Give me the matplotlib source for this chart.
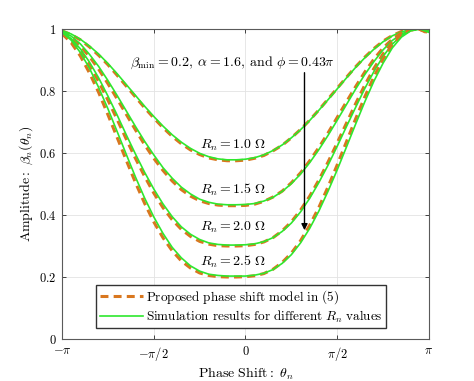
import numpy as np
import matplotlib
matplotlib.use("Agg")
import matplotlib.pyplot as plt

# phase shift samples, in steps of pi/20 from -pi to pi
theta_steps = np.arange(-20, 21)
theta = theta_steps * np.pi / 20

rn_labels = ["1.0", "1.5", "2.0", "2.5"]
rn_label_y = [0.626, 0.481, 0.361, 0.248]

# proposed model (dashed)
model_10 = [0.994, 0.982, 0.965, 0.942, 0.915, 0.885, 0.851, 0.816, 0.781, 0.746, 0.713,
            0.682, 0.654, 0.630, 0.610, 0.595, 0.584, 0.578, 0.575, 0.575, 0.577, 0.583,
            0.592, 0.607, 0.625, 0.649, 0.676, 0.706, 0.739, 0.774, 0.809, 0.844, 0.878,
            0.909, 0.937, 0.961, 0.979, 0.992, 0.999, 0.999, 0.994]
model_15 = [0.990, 0.972, 0.945, 0.911, 0.870, 0.824, 0.775, 0.725, 0.675, 0.627, 0.583,
            0.544, 0.510, 0.482, 0.461, 0.446, 0.437, 0.432, 0.430, 0.430, 0.431, 0.435,
            0.444, 0.458, 0.477, 0.504, 0.536, 0.575, 0.618, 0.665, 0.715, 0.765, 0.814,
            0.861, 0.903, 0.939, 0.967, 0.988, 0.998, 0.999, 0.990]
model_20 = [0.987, 0.963, 0.928, 0.883, 0.830, 0.771, 0.709, 0.645, 0.583, 0.525, 0.471,
            0.424, 0.385, 0.354, 0.331, 0.315, 0.306, 0.301, 0.300, 0.300, 0.301, 0.305,
            0.313, 0.327, 0.349, 0.378, 0.416, 0.461, 0.513, 0.571, 0.633, 0.696, 0.759,
            0.819, 0.873, 0.920, 0.957, 0.984, 0.998, 0.999, 0.987]
model_25 = [0.985, 0.956, 0.913, 0.858, 0.795, 0.724, 0.651, 0.577, 0.505, 0.438, 0.378,
            0.327, 0.285, 0.252, 0.229, 0.213, 0.205, 0.201, 0.200, 0.200, 0.201, 0.204,
            0.211, 0.225, 0.247, 0.277, 0.317, 0.367, 0.425, 0.491, 0.562, 0.636, 0.710,
            0.781, 0.846, 0.903, 0.948, 0.980, 0.997, 0.999, 0.985]

# simulation results (solid green)
sim_10 = [0.995, 0.984, 0.967, 0.945, 0.919, 0.889, 0.856, 0.821, 0.786, 0.751, 0.718,
          0.687, 0.659, 0.635, 0.615, 0.599, 0.588, 0.581, 0.578, 0.578, 0.580, 0.585,
          0.594, 0.608, 0.626, 0.649, 0.675, 0.705, 0.738, 0.772, 0.807, 0.842, 0.876,
          0.907, 0.935, 0.959, 0.978, 0.991, 0.998, 1.000, 0.995]
sim_15 = [0.993, 0.977, 0.952, 0.918, 0.879, 0.834, 0.786, 0.736, 0.686, 0.638, 0.594,
          0.553, 0.519, 0.490, 0.468, 0.451, 0.441, 0.435, 0.433, 0.433, 0.434, 0.437,
          0.445, 0.457, 0.476, 0.501, 0.532, 0.569, 0.611, 0.657, 0.706, 0.756, 0.806,
          0.853, 0.895, 0.933, 0.963, 0.984, 0.997, 1.000, 0.993]
sim_20 = [0.991, 0.969, 0.936, 0.893, 0.842, 0.784, 0.723, 0.659, 0.597, 0.538, 0.484,
          0.436, 0.395, 0.362, 0.338, 0.321, 0.310, 0.305, 0.303, 0.303, 0.304, 0.307,
          0.314, 0.327, 0.347, 0.374, 0.410, 0.454, 0.505, 0.561, 0.622, 0.685, 0.747,
          0.808, 0.863, 0.912, 0.951, 0.979, 0.996, 1.000, 0.991]
sim_25 = [0.989, 0.964, 0.924, 0.873, 0.811, 0.743, 0.670, 0.596, 0.523, 0.455, 0.394,
          0.341, 0.296, 0.262, 0.236, 0.219, 0.209, 0.205, 0.203, 0.203, 0.203, 0.206,
          0.212, 0.224, 0.244, 0.272, 0.310, 0.357, 0.413, 0.477, 0.546, 0.619, 0.693,
          0.765, 0.832, 0.890, 0.939, 0.974, 0.994, 1.000, 0.989]

model_curves = [model_10, model_15, model_20, model_25]
sim_curves = [sim_10, sim_15, sim_20, sim_25]

plt.rcParams["mathtext.fontset"] = "cm"
plt.rcParams["font.family"] = "serif"
plt.rcParams["font.size"] = 9

fig = plt.figure(figsize=(4.74, 3.81), dpi=100)
ax = fig.add_axes([62 / 474, 42 / 381, 367 / 474, 310 / 381])

for i, (m, s) in enumerate(zip(model_curves, sim_curves)):
    ax.plot(theta, m, color="#D9771F", lw=2.2, dashes=(2.6, 1.7),
            label=r"$\mathrm{Proposed\ phase\ shift\ model\ in\ (5)}$" if i == 0 else None)
    ax.plot(theta, s, color="#2EE82E", lw=1.2,
            label=r"$\mathrm{Simulation\ results\ for\ different}\ R_n\ \mathrm{values}$" if i == 0 else None)

ax.set_xlim(-np.pi, np.pi)
ax.set_ylim(0, 1)
ax.set_xticks([-np.pi, -np.pi / 2, 0, np.pi / 2, np.pi])
ax.set_xticklabels([r"$-\pi$", r"$-\pi/2$", r"$0$", r"$\pi/2$", r"$\pi$"])
ax.set_yticks([0, 0.2, 0.4, 0.6, 0.8, 1])
ax.set_yticklabels([r"$0$", r"$0.2$", r"$0.4$", r"$0.6$", r"$0.8$", r"$1$"])
ax.tick_params(direction="in", top=True, right=True, length=3, width=0.6,
               color="#262626", labelsize=9, pad=4)
for sp in ax.spines.values():
    sp.set_color("#5a5a5a")
    sp.set_linewidth(0.8)
ax.grid(True, color="#e3e3e3", lw=0.6)
ax.set_axisbelow(True)
ax.set_xlabel(r"$\mathrm{Phase\ Shift{:}}\ \theta_n$", fontsize=10, labelpad=2)
ax.set_ylabel(r"$\mathrm{Amplitude{:}}\ \beta_n(\theta_n)$", fontsize=10, labelpad=3)

ax.text(-0.22, 0.89, r"$\beta_{\min} = 0.2,\;\alpha = 1.6,\;\mathrm{and}\ \phi = 0.43\pi$",
        ha="center", va="center", fontsize=10)
for lab, yy in zip(rn_labels, rn_label_y):
    ax.text(-0.22, yy, r"$R_n = %s\ \Omega$" % lab, ha="center", va="center", fontsize=10)
ax.annotate("", xy=(1.01, 0.342), xytext=(1.01, 0.868),
            arrowprops=dict(arrowstyle="-|>", color="k", lw=1.0, mutation_scale=9))

ax.legend(loc="lower center", bbox_to_anchor=(0.488, 0.035), fontsize=9.5,
          handlelength=3.3, handletextpad=0.2, borderpad=0.25, labelspacing=0.2,
          fancybox=False, edgecolor="#333333", framealpha=1, borderaxespad=0)

fig.savefig("out.png")
